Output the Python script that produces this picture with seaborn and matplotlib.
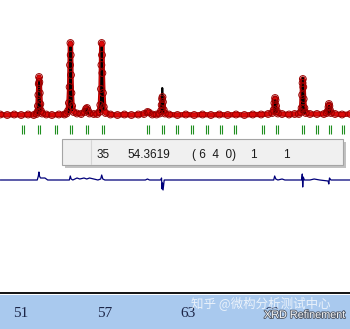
import numpy as np
import pandas as pd
import matplotlib
matplotlib.use("Agg")
import matplotlib.pyplot as plt
import matplotlib.patheffects as pe
from matplotlib.patches import Rectangle
from matplotlib.lines import Line2D
from matplotlib.transforms import ScaledTranslation
import seaborn as sns

# ---------------- data ----------------
obs_2theta = [
    49.30, 49.80, 50.30, 50.80, 51.30, 51.70, 51.90,
    51.96, 52.00, 52.03, 52.06, 52.08, 52.10, 52.13, 52.17, 52.22, 52.30,
    52.60, 53.00, 53.50, 53.90, 54.05,
    54.15, 54.22, 54.27, 54.30, 54.33, 54.35, 54.37, 54.40, 54.45, 54.55,
    54.80, 55.10, 55.35, 55.45, 55.52, 55.60, 55.70,
    56.00, 56.25, 56.40, 56.47, 56.52, 56.55, 56.57, 56.59, 56.62, 56.66, 56.72, 56.85,
    57.20, 57.70, 58.20, 58.70, 59.20, 59.60, 59.85, 59.95, 60.20, 60.50, 60.72,
    60.82, 60.87, 60.90, 60.93, 60.96, 61.02, 61.10,
    61.40, 62.00, 62.60, 63.20, 63.80, 64.40, 65.00, 65.60, 66.20, 66.80, 67.40, 68.00, 68.50, 68.80,
    68.90, 68.95, 69.00, 69.03, 69.07, 69.12, 69.20,
    69.50, 70.00, 70.40, 70.70, 70.85,
    70.90, 70.94, 70.97, 70.99, 71.02, 71.05, 71.10, 71.20,
    71.50, 72.00, 72.50, 72.70,
    72.78, 72.83, 72.86, 72.89, 72.93, 73.00,
    73.30, 73.80, 74.40,
]
obs_int = [
    0.5, 0.0, 0.5, 0.0, 0.5, 0.0, 1.0,
    3, 9, 20, 31, 38, 33, 22, 11, 4, 1.5,
    0.5, 0.0, 0.5, 0.5, 1.5,
    4, 12, 28, 50, 72, 60, 40, 22, 9, 3,
    1.5, 1.0, 3, 6, 7, 4, 1.5,
    1.0, 1.0, 3, 10, 26, 50, 72, 60, 42, 22, 8, 2,
    0.5, 0.0, 0.5, 0.0, 0.5, 1.0, 3, 2.5, 0.5, 0.5, 1.5,
    4, 10, 16, 18, 13, 5, 1.5,
    0.5, 0.0, 0.5, 0.0, 0.5, 0.0, 0.5, 0.0, 0.5, 0.0, 0.5, 0.5, 1.0, 2,
    5, 12, 17, 15, 9, 4, 1.5,
    1.0, 0.5, 1.0, 1.0, 3,
    7, 20, 32, 36, 28, 16, 7, 2,
    1.0, 1.0, 1.0, 2,
    4, 8, 11, 9, 5, 2,
    1.0, 0.5, 1.0,
]

calc_2theta = [51.98, 52.03, 52.06, 52.08, 52.10, 52.13, 52.18,
               54.20, 54.27, 54.30, 54.33, 54.35, 54.38, 54.45,
               55.42, 55.50, 55.60,
               56.45, 56.52, 56.55, 56.57, 56.60, 56.63, 56.70,
               60.82, 60.87, 60.91, 60.95, 61.00,
               68.92, 68.97, 69.00, 69.05, 69.10,
               70.90, 70.94, 70.97, 70.99, 71.02, 71.06, 71.12,
               72.80, 72.84, 72.87, 72.91, 72.96]
calc_int = [2, 10, 22, 33, 26, 14, 4,
            3, 15, 40, 68, 50, 25, 5,
            2, 6, 2,
            3, 15, 40, 68, 48, 25, 5,
            3, 12, 27, 14, 3,
            3, 9, 15, 9, 3,
            3, 15, 30, 37, 25, 10, 2,
            2, 6, 9, 5, 2]
calc_peak = [1] * 7 + [2] * 7 + [3] * 3 + [4] * 7 + [5] * 5 + [6] * 5 + [7] * 7 + [8] * 5

diff_2theta = [49.30, 51.95, 52.03, 52.07, 52.11, 52.18, 52.50, 52.70, 53.50,
               54.25, 54.32, 54.38, 54.50, 54.80, 55.00, 55.30, 55.50, 55.70,
               56.00, 56.30, 56.50, 56.57, 56.65, 56.80, 57.50, 59.70, 59.85,
               60.00, 60.80, 60.86, 60.90, 60.93, 60.97, 61.05, 68.90, 68.97,
               69.05, 69.20, 69.50, 69.70, 70.00, 70.90, 70.95, 70.98, 71.02,
               71.10, 71.50, 71.80, 72.20, 72.80, 72.85, 72.90, 73.00, 74.40]
diff_int = [0, 0, 4, 8, 4, 2, 2, 0, 0,
            0, 4, 1, 0, 2, 1, 2, 1, 2,
            1, 0, 1, 5, 1, 0, 0, 0, 1,
            0, 0, 2, -9, -3, -10, 0, 0, 4,
            1, 0, 1, 0, 0, 0, 6, -7, 3,
            0, 0, 1, 0, -1, -4, 2, 0, 0]

bragg_2theta = [50.95, 52.10, 53.29, 54.36, 55.54, 56.68, 59.91, 60.99, 61.99,
                63.02, 64.10, 65.10, 66.13, 68.11, 69.11, 71.02, 72.03, 72.94, 73.89]

tick_values = [51, 57, 63, 69, 75]
tick_labels = ["51", "57", "63", "69", "75"]
minor_ticks = [49.8, 52.2, 53.4, 54.6, 55.8, 58.2, 59.4, 60.6, 61.8, 64.2, 65.4,
               66.6, 67.8, 70.2, 71.4, 72.6, 73.8]

tooltip_texts = ["35", "54.3619", "( 6  4  0)", "1", "1"]
watermark_cn = "知乎 @微构分析测试中心"
watermark_en = "XRD Refinement"

# ---------------- figure ----------------
sns.set_style("white")
plt.rcParams['font.family'] = ['DejaVu Sans']

W, H = 350, 329
fig = plt.figure(figsize=(W / 100, H / 100), dpi=100)
fig.patch.set_facecolor("white")

def fx(px):
    return px / W

def fy(py):
    return 1 - py / H

axis_py = 293
ax = fig.add_axes([0, fy(axis_py), 1, axis_py / H])
ax.set_facecolor("white")

# blue band below the axis
fig.add_artist(Rectangle((0, 0), 1, fy(294.5), transform=fig.transFigure,
                         facecolor="#a9c9ee", edgecolor="none", zorder=0))

obs = pd.DataFrame({"tt": obs_2theta, "I": obs_int})
calc = pd.DataFrame({"tt": calc_2theta, "I": calc_int, "peak": calc_peak})
diff = pd.DataFrame({"tt": diff_2theta, "I": np.array(diff_int) - 65})

# observed: thick red band + hollow circles
sns.lineplot(data=obs, x="tt", y="I", ax=ax, color="#b00000", lw=3.8,
             sort=False, estimator=None, zorder=3)
sns.lineplot(data=obs, x="tt", y="I", ax=ax, color="#dc0a0a", lw=2.6,
             sort=False, estimator=None, zorder=4)
# calculated
sns.lineplot(data=calc, x="tt", y="I", units="peak", ax=ax, color="black",
             lw=1.5, sort=False, estimator=None, zorder=5, legend=False)
sns.scatterplot(data=obs, x="tt", y="I", ax=ax, marker="o", s=24,
                facecolors="none", edgecolor="#9a0000", linewidth=0.7, zorder=6)

# difference
sns.lineplot(data=diff, x="tt", y="I", ax=ax, color="#00007a", lw=0.9,
             sort=False, estimator=None, zorder=3)

# Bragg reflections (double ticks)
bt = np.array(bragg_2theta)
ax.vlines(bt - 0.07, -19, -10, color="#1f8f1f", lw=0.8)
ax.vlines(bt + 0.07, -19, -10, color="#1f8f1f", lw=0.8)

ax.set_xlabel("")
ax.set_ylabel("")
for s in ["top", "left", "right"]:
    ax.spines[s].set_visible(False)
ax.spines["bottom"].set_linewidth(1.3)
ax.spines["bottom"].set_color("black")
ax.set_yticks([])
ax.set_xticks(tick_values)
ax.set_xticklabels(tick_labels)
ax.set_xticks(minor_ticks, minor=True)
ax.set_xlim(49.28, 74.37)
ax.set_ylim(-178, 115)
ax.tick_params(axis="x", which="major", direction="in", length=3.2, width=1.0,
               pad=10, labelsize=11, colors="black")
ax.tick_params(axis="x", which="minor", direction="in", length=1.8, width=0.8)
ax.tick_params(axis="x", labelcolor="#1c2547")
for lab in ax.get_xticklabels():
    lab.set_fontfamily("Liberation Serif")
    lab.set_transform(lab.get_transform() + ScaledTranslation(-3.5 / 100, 0, fig.dpi_scale_trans))

# tooltip box
fig.add_artist(Rectangle((fx(65), fy(168)), fx(343 - 62), 26 / H, transform=fig.transFigure,
                         facecolor="#9a9a9a", edgecolor="none", alpha=0.6, zorder=10))
fig.add_artist(Rectangle((fx(62), fy(165)), fx(343 - 62), 26 / H, transform=fig.transFigure,
                         facecolor="#f0f0f0", edgecolor="#a5a5a5", lw=0.8, zorder=11))
fig.add_artist(Line2D([fx(91), fx(91)], [fy(140), fy(164)], transform=fig.transFigure,
                      color="#d5d5d5", lw=0.8, zorder=12))
tip_x = [97, 127, 191.5, 250, 283]
for txt, px in zip(tooltip_texts, tip_x):
    fig.text(fx(px), fy(155), txt, ha="left", va="center", fontsize=8.5,
             family="Liberation Sans", color="#1a1a1a", zorder=13)

# watermark
fig.text(fx(191), fy(303), watermark_cn, ha="left", va="center", fontsize=9,
         family=["Noto Sans CJK SC", "DejaVu Sans"], color="white", alpha=0.75, zorder=14)
fig.text(fx(264), fy(315), watermark_en, ha="left", va="center", fontsize=7.8,
         family="Liberation Sans", color="#f4f4f4", zorder=14,
         bbox=dict(facecolor="#a9c9ee", edgecolor="none", pad=0.5),
         path_effects=[pe.withStroke(linewidth=1.2, foreground="#505a6a")])

fig.savefig("out.png", dpi=100)
